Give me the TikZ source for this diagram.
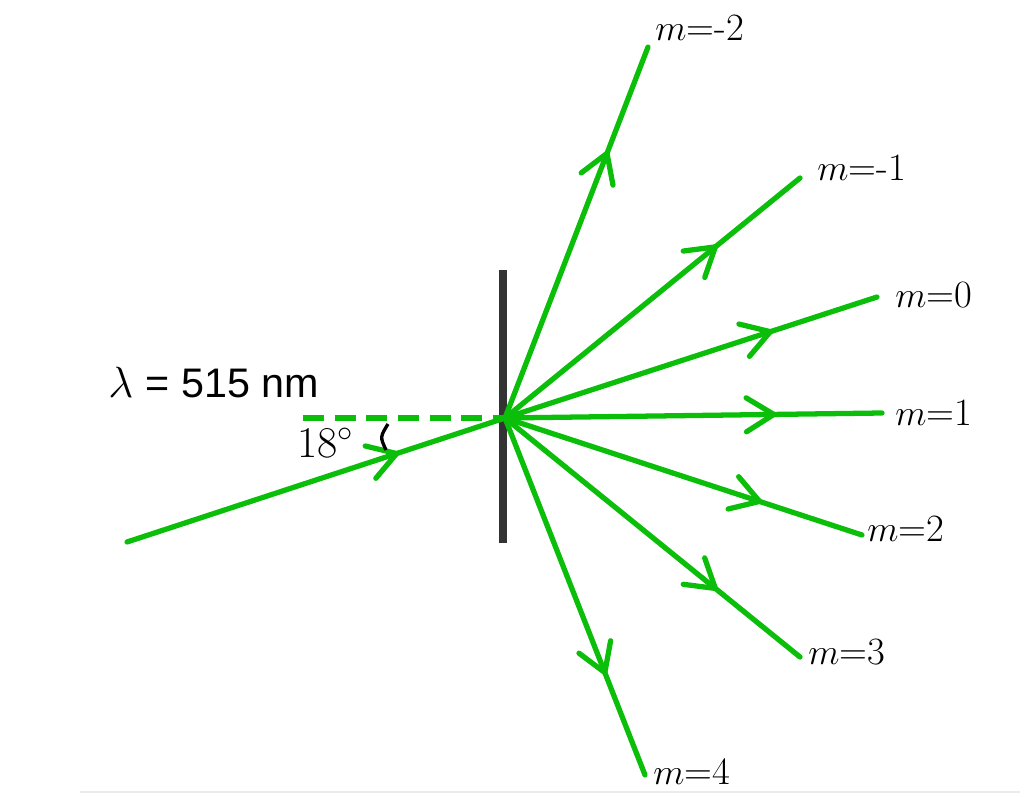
\documentclass[tikz,border=0pt]{standalone}
\usepackage{fontspec}
\usepackage{tikz}
\usetikzlibrary{arrows.meta, decorations.markings, positioning}
\newfontfamily\labelsans{Liberation Sans}
\definecolor{beamgreen}{RGB}{10,190,10}
\tikzstyle{ray} = [draw=beamgreen, line width=3pt, line cap=round, postaction={decorate}, decoration={markings, mark=at position 0.72 with {\arrow[beamgreen]{Straight Barb[length=0.55cm, width=0.68cm, line width=3pt, round]}}}]
\tikzstyle{normalline} = [draw=beamgreen, line width=3pt, dash pattern=on 12pt off 6pt]
\tikzstyle{grating} = [draw=black!80, line width=4pt]
\tikzstyle{order} = [font=\fontsize{22}{26}\selectfont, anchor=west, inner sep=0pt]
\tikzstyle{anglemark} = [draw=black, line width=1.9pt]

\begin{document}
\begin{tikzpicture}[x=0.02cm, y=-0.02cm]
  \useasboundingbox (0,0) rectangle (1024,797);
  % points
    \coordinate (O) at (505,418);
    \coordinate (src) at (127,542);
    \coordinate (normal) at (303,418);
    \coordinate (gtop) at (503,270);
    \coordinate (gbot) at (503,543);
    \coordinate (em2) at (648,47);
    \coordinate (em1) at (800,178);
    \coordinate (e0) at (877,297);
    \coordinate (e1) at (882,413);
    \coordinate (e2) at (862,535);
    \coordinate (e3) at (800,657);
    \coordinate (e4) at (645,775);
  % labels
    \node (lbm2) [order] at (655,28) {$m$=-2};
    \node (lbm1) [order] at (817,168) {$m$=-1};
    \node (lb0) [order] at (895,295) {$m$=0};
    \node (lb1) [order] at (895,413) {$m$=1};
    \node (lb2) [order] at (867,529) {$m$=2};
    \node (lb3) [order] at (808,652) {$m$=3};
    \node (lb4) [order] at (653,772) {$m$=4};
    \node (wavelength) [anchor=west, inner sep=0pt, font=\fontsize{23.5}{27}\selectfont] at (108,383) {$\lambda$ {\labelsans = 515 nm}};
    \node (incangle) [anchor=west, inner sep=0pt, font=\fontsize{25}{28}\selectfont] at (297,443) {18$^\circ$};
  % grating
    \draw [grating] (gtop) -- (gbot);
  % rays
    \draw [normalline] (normal) -- (O);
    \draw [ray] (src) -- (O);
    \foreach \e in {em2,em1,e0,e1,e2,e3,e4}
      \draw [ray] (O) -- (\e);
  % angle mark
    \draw [anglemark] (388,424) .. controls (380,437) .. (386,450);
    \draw [gray!15, line width=1pt] (80,792) -- (1020,792);
\end{tikzpicture}
\end{document}
